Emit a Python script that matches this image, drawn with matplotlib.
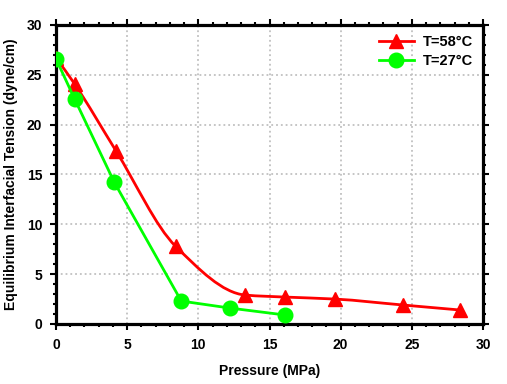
import numpy as np
from matplotlib import pyplot as plt
from matplotlib.path import Path
from matplotlib.patches import PathPatch
from matplotlib.ticker import MultipleLocator

plt.rcParams['font.family'] = ['Liberation Sans', 'DejaVu Sans']
plt.rcParams['font.weight'] = 'bold'

# T = 58 C
p58 = [0.0, 1.3, 4.2, 8.4, 13.3, 16.1, 19.6, 24.4, 28.4]
t58 = [26.7, 24.1, 17.4, 7.8, 2.9, 2.7, 2.5, 1.9, 1.4]
# T = 27 C
p27 = [0.0, 1.3, 4.1, 8.8, 12.2, 16.1]
t27 = [26.6, 22.6, 14.2, 2.3, 1.6, 0.9]


def smooth_path(x, y):
    # monotone cubic (fritsch-carlson) through the points, as bezier segments
    x = np.asarray(x, float)
    y = np.asarray(y, float)
    h = np.diff(x)
    d = np.diff(y) / h
    m = np.zeros_like(y)
    m[0], m[-1] = d[0], d[-1]
    for i in range(1, len(x) - 1):
        if d[i - 1] * d[i] > 0:
            w1 = 2 * h[i] + h[i - 1]
            w2 = h[i] + 2 * h[i - 1]
            m[i] = (w1 + w2) / (w1 / d[i - 1] + w2 / d[i])
    verts = [(x[0], y[0])]
    codes = [Path.MOVETO]
    for i in range(len(x) - 1):
        c1 = (x[i] + h[i] / 3, y[i] + m[i] * h[i] / 3)
        c2 = (x[i + 1] - h[i] / 3, y[i + 1] - m[i + 1] * h[i] / 3)
        verts += [c1, c2, (x[i + 1], y[i + 1])]
        codes += [Path.CURVE4] * 3
    return Path(verts, codes)


fig = plt.figure(figsize=(5.07, 3.84), dpi=100)
ax = fig.add_axes([0.1105, 0.1563, 0.8422, 0.7786])

ax.add_patch(PathPatch(smooth_path(p58, t58), facecolor='none', edgecolor='#ff0000', linewidth=2, zorder=3))
ax.plot(p58, t58, linestyle='none', marker='^', color='#ff0000', markersize=10.5, zorder=4)
ax.plot(p27, t27, '-', color='#00ff00', linewidth=2, marker='o', markersize=10.5, zorder=4)

# legend proxies
ax.plot([], [], '-', color='#ff0000', linewidth=2, marker='^', markersize=10.5, label='T=58°C')
ax.plot([], [], '-', color='#00ff00', linewidth=2, marker='o', markersize=10.5, label='T=27°C')
leg = ax.legend(loc='upper right', frameon=False, fontsize=10.5, handlelength=2.4,
                borderaxespad=0.3, labelspacing=0.35, handletextpad=0.6)
for t in leg.get_texts():
    t.set_fontweight('bold')

ax.set_xlim(0, 30)
ax.set_ylim(0, 30)
ax.xaxis.set_major_locator(MultipleLocator(5))
ax.xaxis.set_minor_locator(MultipleLocator(1))
ax.yaxis.set_major_locator(MultipleLocator(5))
ax.yaxis.set_minor_locator(MultipleLocator(1))
ax.tick_params(which='both', direction='out', top=True, right=True, labelsize=10, width=1.5)
ax.tick_params(which='major', length=4, pad=6)
ax.tick_params(which='minor', length=2.5)
ax.tick_params(labelright=False, labeltop=False)
for lbl in ax.get_xticklabels() + ax.get_yticklabels():
    lbl.set_fontweight('bold')
for s in ax.spines.values():
    s.set_linewidth(2.3)

ax.grid(True, which='major', color='#c0c0c0', linestyle=':', linewidth=1.3)

ax.set_xlabel('Pressure (MPa)', fontsize=10, fontweight='bold', labelpad=9)
ax.set_ylabel('Equilibrium Interfacial Tension (dyne/cm)', fontsize=10, fontweight='bold', labelpad=6)

plt.savefig('out.png', dpi=100)
